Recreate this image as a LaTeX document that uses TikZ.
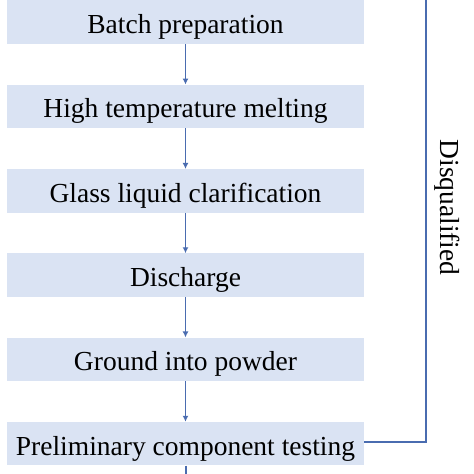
\documentclass[tikz,border=0pt]{standalone}
\usepackage{fontspec}
\setmainfont{Liberation Serif}
\usetikzlibrary{arrows.meta}
\definecolor{boxfill}{HTML}{DAE3F3}
\definecolor{linecol}{HTML}{4A6CB0}
\begin{document}
\begin{tikzpicture}[x=1bp,y=-1bp,
  stepbox/.style={fill=boxfill, draw=none, inner sep=0pt, minimum width=357bp, minimum height=43.5bp,
    text height=22.6bp, text depth=0pt, font=\fontsize{27.5bp}{32bp}\selectfont},
  flow/.style={draw=linecol, line width=1.8bp, -{Latex[length=6bp,width=6bp]}},
  loopline/.style={draw=linecol, line width=1.8bp},
  lbl/.style={font=\fontsize{27.5bp}{32bp}\selectfont, inner sep=0pt}]
\useasboundingbox (0,0) rectangle (474,474);
\node[stepbox] (b1) at (185.5,22.2) {Batch preparation};
\node[stepbox] (b2) at (185.5,106.5) {High temperature melting};
\node[stepbox] (b3) at (185.5,190.9) {Glass liquid clarification};
\node[stepbox] (b4) at (185.5,275.2) {Discharge};
\node[stepbox] (b5) at (185.5,359.4) {Ground into powder};
\node[stepbox] (b6) at (185.5,443.7) {Preliminary component testing};
\draw[flow] (b1) -- (b2);
\draw[flow] (b2) -- (b3);
\draw[flow] (b3) -- (b4);
\draw[flow] (b4) -- (b5);
\draw[flow] (b5) -- (b6);
\coordinate (bend) at (426,442);
\coordinate (topend) at (426,-2);
\coordinate (botend) at (186,476);
\draw[loopline] (b6.east |- bend) -- (bend) -- (topend);
\draw[draw=linecol, line width=1.8bp] (b6.south -| botend) -- (botend);
\node[lbl, rotate=-90, anchor=base] (dq) at (440,207.5) {Disqualified};
\end{tikzpicture}
\end{document}
